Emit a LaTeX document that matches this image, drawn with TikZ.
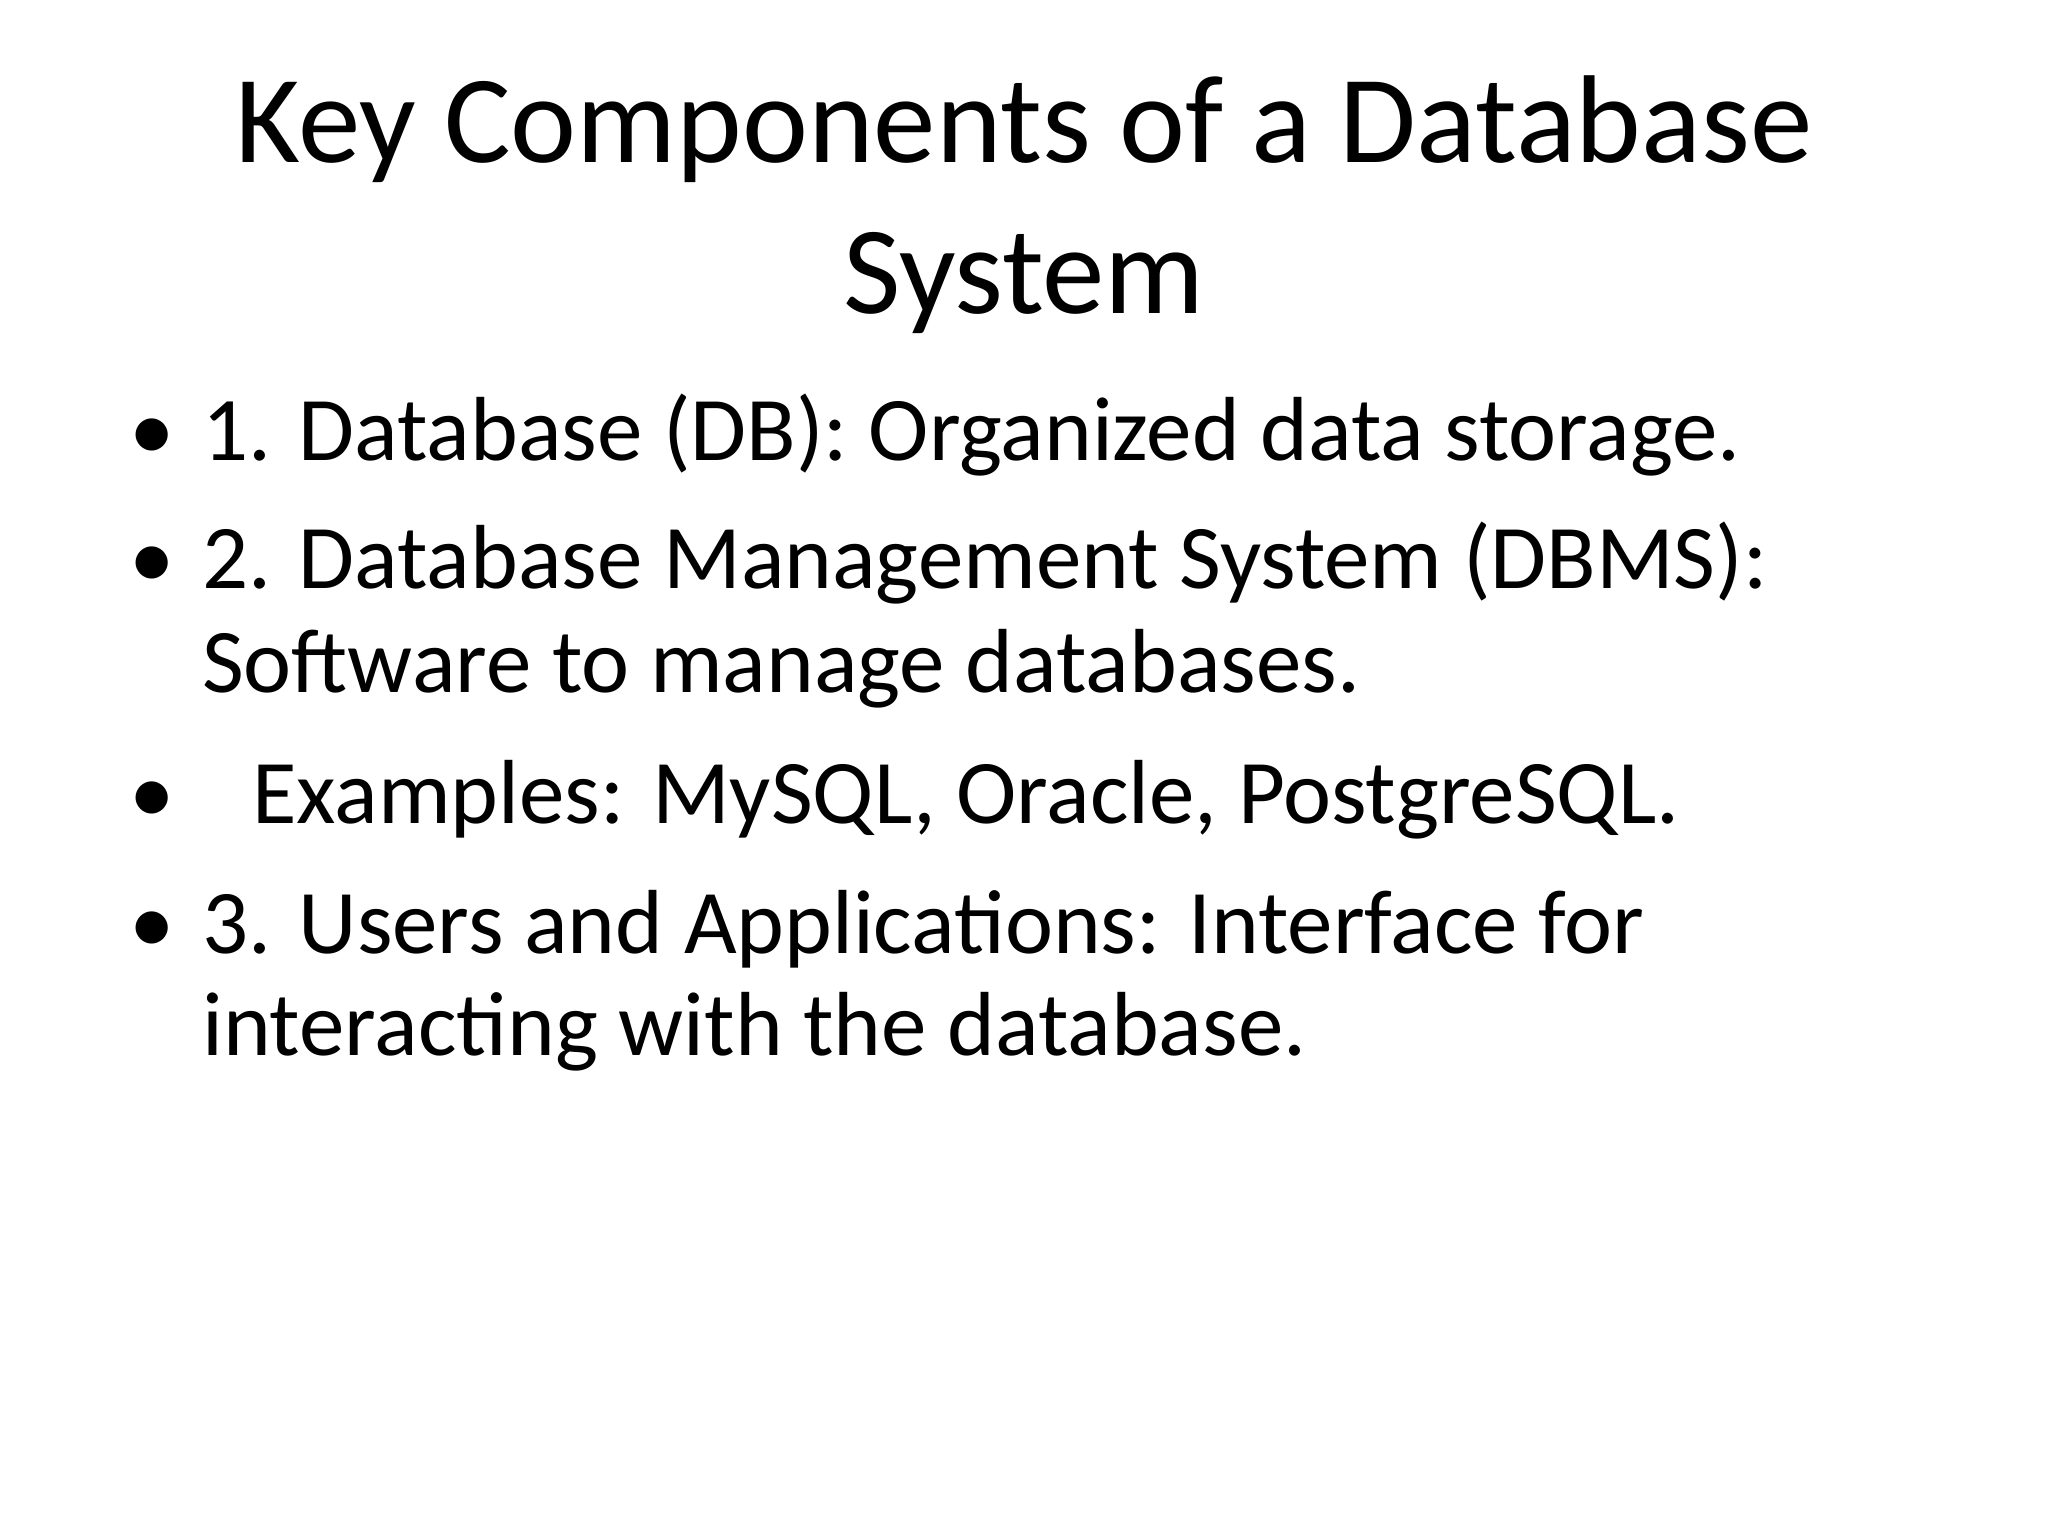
\documentclass[tikz,border=0pt]{standalone}
\usepackage{fontspec}
\setmainfont{Carlito}
\begin{document}
\begin{tikzpicture}[x=1pt,y=-1pt,
  title/.style={anchor=base,font=\fontsize{125}{150}\selectfont},
  body/.style={anchor=base west,font=\fontsize{91}{110}\selectfont,inner sep=0pt},
  bul/.style={anchor=base,font=\fontsize{91}{110}\selectfont,inner sep=0pt}]
\useasboundingbox (0,0) rectangle (2048,1536);
\fill[white] (0,0) rectangle (2048,1536);
\node[title] (t1) at (1024,163) {Key Components of a Database};
\node[title] (t2) at (1024,313) {System};
\foreach \y/\n in {460/b1,588/b2,823/b3,953/b4}{
  \node[bul] (\n) at (152,\y) {•};
}
\node[body] (l1) at (202,460) {1. Database (DB): Organized data storage.};
\node[body] (l2) at (202,588) {2. Database Management System (DBMS):};
\node[body] (l3) at (202,692) {Software to manage databases.};
\node[body] (l4) at (202,823) {\hspace{0.55em}Examples: MySQL, Oracle, PostgreSQL.};
\node[body] (l5) at (202,953) {3. Users and Applications: Interface for};
\node[body] (l6) at (202,1055) {interacting with the database.};
\end{tikzpicture}
\end{document}
